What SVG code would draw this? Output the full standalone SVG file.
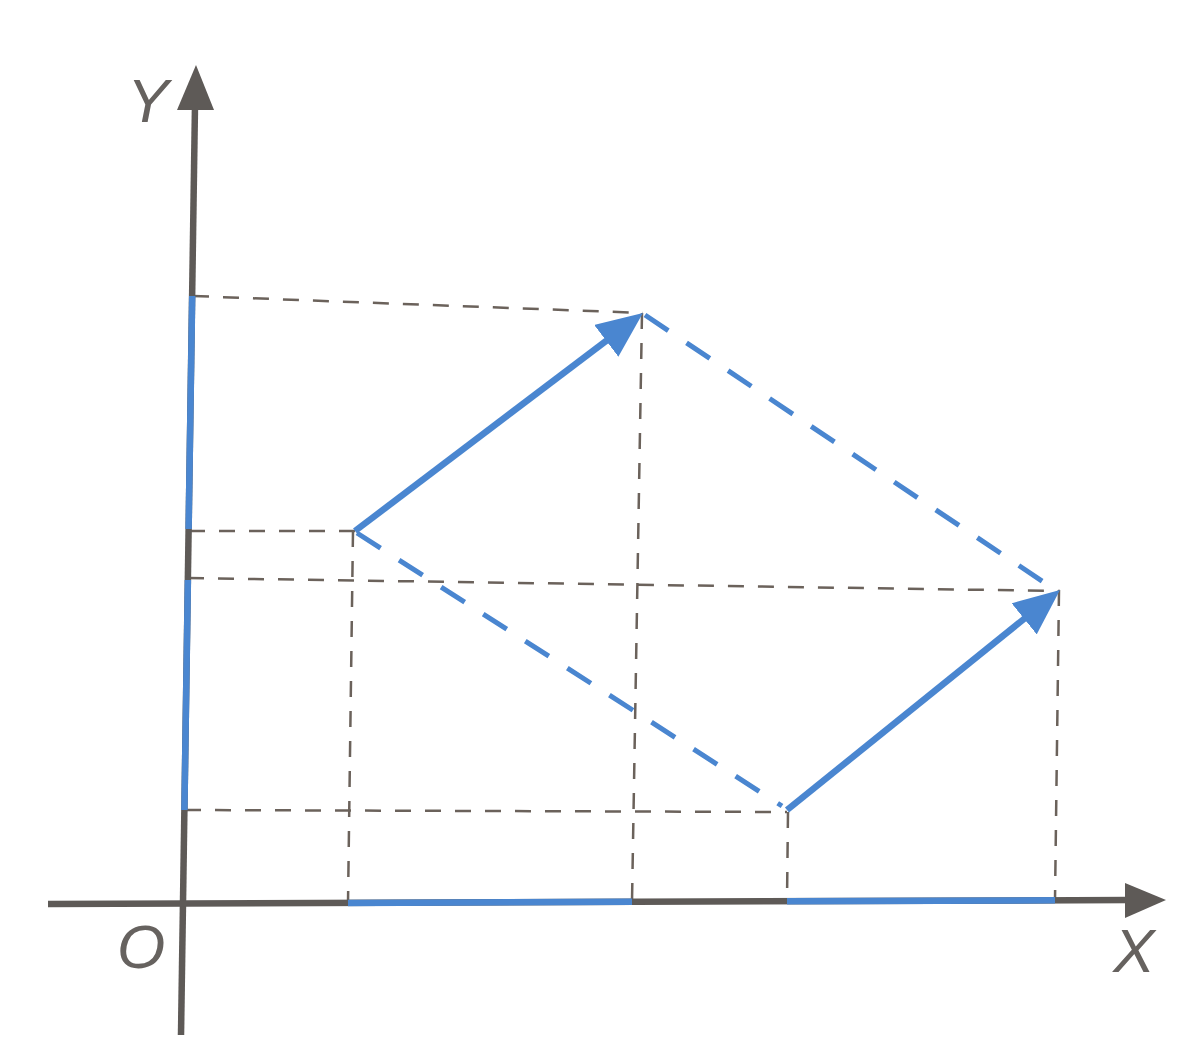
<svg xmlns="http://www.w3.org/2000/svg" width="1200" height="1051" viewBox="0 0 1200 1051">
<style>
.axis{stroke:#5e5a57;stroke-width:6.5;fill:none}
.proj{stroke:#4a86d0;stroke-width:6.5;fill:none}
.gd{stroke:#6b625b;stroke-width:2.5;stroke-dasharray:16 14;fill:none}
.bd{stroke:#4a86d0;stroke-width:5;stroke-dasharray:28 22;fill:none}
.vec{stroke:#4a86d0;stroke-width:6.5;fill:none}
.lbl{font-family:"Liberation Sans",Arial,sans-serif;font-style:italic;font-size:62px;fill:#66625f;text-anchor:middle}
</style>
<defs>
<marker id="ah" viewBox="0 0 46 40" refX="26" refY="20" markerWidth="46" markerHeight="40" markerUnits="userSpaceOnUse" orient="auto">
<path d="M0,0 L46,20 L0,40 Z" fill="#4a86d0"/>
</marker>
</defs>
<rect width="1200" height="1051" fill="#ffffff"/>
<g id="connectors">
<g id="grey-dashes">
<line class="gd" x1="193" y1="296" x2="643" y2="313"/>
<line class="gd" x1="189" y1="531" x2="355" y2="531"/>
<line class="gd" x1="188" y1="578" x2="1060" y2="591"/>
<line class="gd" x1="185" y1="810" x2="787" y2="812"/>
<line class="gd" x1="353" y1="531" x2="348" y2="903"/>
<line class="gd" x1="642" y1="313" x2="632" y2="902"/>
<line class="gd" x1="788" y1="812" x2="787" y2="901"/>
<line class="gd" x1="1059" y1="590" x2="1055" y2="900"/>
</g>
<g id="blue-dashes">
<line class="bd" x1="645" y1="315" x2="1045" y2="583"/>
<line class="bd" x1="357" y1="533" x2="782" y2="806"/>
</g>
</g>
<g id="axes">
<line class="axis" x1="181" y1="1035" x2="195" y2="105"/>
<polygon points="196,65 177,110 214,110" fill="#5e5a57"/>
<line class="axis" x1="48" y1="904" x2="1130" y2="900"/>
<polygon points="1166,900 1125,883 1125,918" fill="#5e5a57"/>
</g>
<g id="projections">
<line class="proj" x1="192.2" y1="296" x2="188.6" y2="529"/>
<line class="proj" x1="187.9" y1="580" x2="184.4" y2="810"/>
<line class="proj" x1="348" y1="902.9" x2="632" y2="901.8"/>
<line class="proj" x1="787" y1="901.3" x2="1055" y2="900.3"/>
</g>
<g id="vector1">
<line class="vec" x1="355" y1="531" x2="627" y2="325.1" marker-end="url(#ah)"/>
</g>
<g id="vector2">
<line class="vec" x1="787" y1="810" x2="1044.4" y2="602.5" marker-end="url(#ah)"/>
</g>
<g id="labels">
<text class="lbl" x="148" y="122">Y</text>
<text class="lbl" x="1134" y="972">X</text>
<text class="lbl" x="141" y="968">O</text>
</g>
</svg>
